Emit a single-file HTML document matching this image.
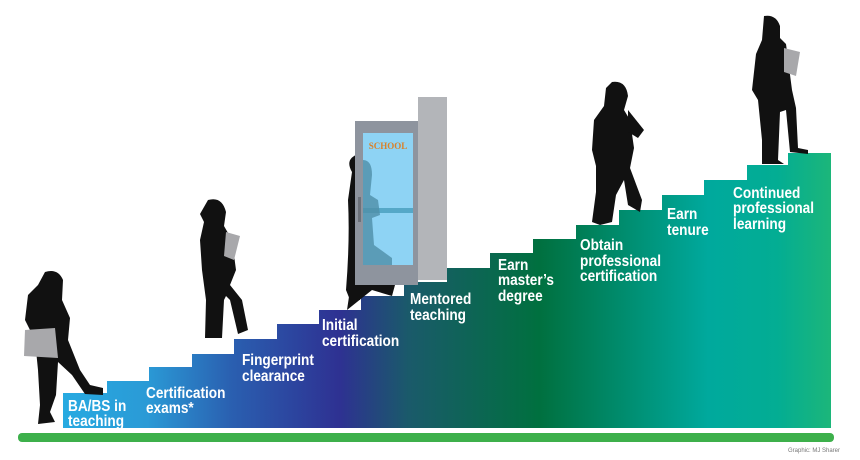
<!DOCTYPE html>
<html><head><meta charset="utf-8"><style>
html,body{margin:0;padding:0;background:#fff;}
svg{display:block}
.l{font-family:"Liberation Sans Narrow","Liberation Sans",sans-serif;font-weight:bold;font-size:15.5px;fill:#fff;}
</style></head><body>
<svg width="860" height="460" viewBox="0 0 860 460" xmlns="http://www.w3.org/2000/svg">
<defs>
<linearGradient id="g" x1="63" y1="0" x2="831" y2="0" gradientUnits="userSpaceOnUse">
<stop offset="0" stop-color="#27aae1"/>
<stop offset="0.11" stop-color="#2a9ad6"/>
<stop offset="0.22" stop-color="#2a5fb0"/>
<stop offset="0.36" stop-color="#2e3192"/>
<stop offset="0.45" stop-color="#1a5a6a"/>
<stop offset="0.62" stop-color="#00703f"/>
<stop offset="0.84" stop-color="#00a99d"/>
<stop offset="0.93" stop-color="#03ad93"/>
<stop offset="1" stop-color="#1cb67a"/>
</linearGradient>
</defs>
<path fill="url(#g)" d="M63,428 L63,393 L107,393 L107,381 L149,381 L149,367 L192,367 L192,354 L234,354 L234,339 L277,339 L277,324 L319,324 L319,310 L361,310 L361,296 L404,296 L404,282 L447,282 L447,268 L490,268 L490,253 L533,253 L533,239 L576,239 L576,225 L619,225 L619,210 L662,210 L662,195 L704,195 L704,180 L747,180 L747,165 L788,165 L788,153 L831,153 L831,428 Z"/>
<rect x="18" y="433" width="816" height="9" rx="4" fill="#3db04b"/>
<text x="788" y="452" font-family="Liberation Sans Narrow,Liberation Sans,sans-serif" font-size="6" fill="#777">Graphic: MJ Sharer</text>

<!-- door -->
<rect x="418" y="97" width="29" height="183" fill="#b3b5b9"/>
<path fill="#111" d="M352,172 Q345,160 356,155 L360,155 L360,300 L350,300 L346,290 Q350,240 348,200 Z"/>
<rect x="355" y="121" width="63" height="164" fill="#8e949e"/>
<rect x="363" y="133" width="50" height="132" fill="#8ed3f4"/>
<rect x="363" y="208" width="50" height="5" fill="#55a8c8"/>
<path fill="#4f8fa8" opacity="0.8" d="M363,160 Q372,160 372,175 L370,195 L378,200 L380,215 L372,218 L374,245 L392,258 L392,265 L363,265 Z"/>
<rect x="358" y="197" width="3" height="25" fill="#6c717a"/>
<text x="388" y="149" text-anchor="middle" font-family="Liberation Serif,serif" font-weight="bold" font-size="9" fill="#d9822b">SCHOOL</text>
<path fill="#111" d="M360,285 L395,285 L392,296 L372,290 L362,298 L347,310 L350,290 Z"/>

<!-- figure 1 -->
<path fill="#111" d="M45,272 Q58,268 63,280 L62,300 L70,318 L68,340 L80,370 L90,385 L103,388 L103,395 L85,394 L72,375 L58,362 L56,395 L50,412 L55,422 L38,424 L40,405 L38,370 L35,340 L25,320 L28,295 L38,285 Z"/>
<path fill="#a8a8ab" d="M25,330 L55,328 L58,358 L24,356 Z"/>
<!-- figure 2 -->
<path fill="#111" d="M208,200 Q222,196 226,212 L224,226 L232,240 L236,270 L230,285 L242,300 L248,330 L238,334 L230,300 L226,296 L224,300 L222,338 L205,338 L206,300 L202,270 L200,240 L204,222 L200,214 Z"/>
<path fill="#a8a8ab" d="M226,232 L240,236 L234,260 L224,256 Z"/>
<!-- figure 4 -->
<path fill="#111" d="M612,82 Q626,80 628,96 L624,110 L630,120 L634,148 L630,168 L642,200 L640,212 L628,205 L624,180 L616,195 L612,222 L600,225 L592,222 L596,192 L596,166 L592,150 L594,120 L604,106 L606,88 Z"/>
<path fill="#111" d="M628,110 L644,130 L638,138 L628,132 Z"/>
<!-- figure 5 -->
<path fill="#111" d="M764,16 Q776,14 780,26 L780,38 L786,44 L792,90 L796,108 L798,148 L808,150 L808,154 L790,152 L786,110 L780,112 L778,160 L784,164 L762,164 L762,140 L758,100 L752,90 L756,54 L762,40 Z"/>
<path fill="#a8a8ab" d="M784,48 L800,52 L796,76 L784,72 Z"/>

<!-- labels -->
<g class="l" transform="scale(0.88,1)">
<text x="77.3" y="411">BA/BS in</text><text x="77.3" y="426">teaching</text>
<text x="165.9" y="398">Certification</text><text x="165.9" y="413">exams*</text>
<text x="275" y="365">Fingerprint</text><text x="275" y="381">clearance</text>
<text x="365.9" y="330">Initial</text><text x="365.9" y="346">certification</text>
<text x="465.9" y="304">Mentored</text><text x="465.9" y="320">teaching</text>
<text x="565.9" y="270">Earn</text><text x="565.9" y="285">master’s</text><text x="565.9" y="301">degree</text>
<text x="659.1" y="250">Obtain</text><text x="659.1" y="266">professional</text><text x="659.1" y="281">certification</text>
<text x="758" y="219">Earn</text><text x="758" y="235">tenure</text>
<text x="833" y="198">Continued</text><text x="833" y="213">professional</text><text x="833" y="229">learning</text>
</g>
</svg>
</body></html>
